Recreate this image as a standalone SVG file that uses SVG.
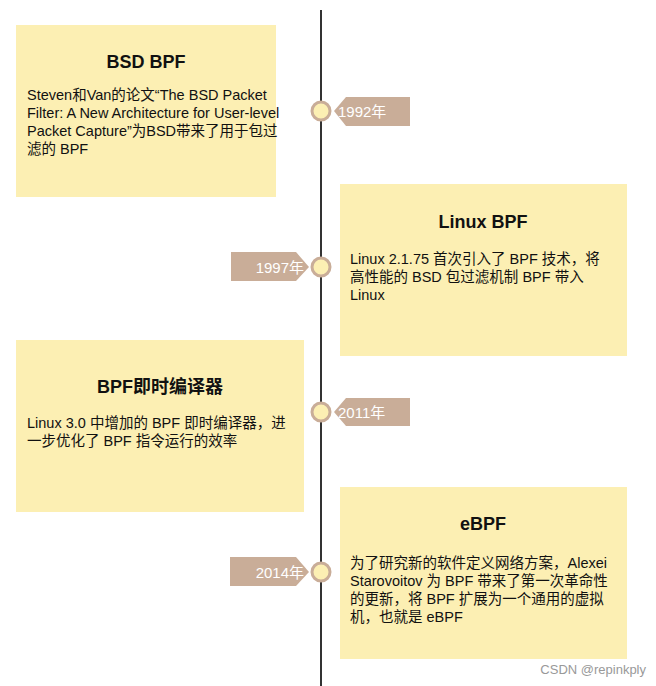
<svg xmlns="http://www.w3.org/2000/svg" width="656" height="686" viewBox="0 0 656 686">
<style>
.box{fill:#fcefb3}
.tag{fill:#c9ad98}
.dot{fill:#fcefb3;stroke:#c9ad98;stroke-width:3}
.t{font-family:"Liberation Sans","Noto Sans CJK SC",sans-serif;font-size:18px;font-weight:bold;fill:#111;text-anchor:middle}
.b{font-family:"Liberation Sans","Noto Sans CJK SC",sans-serif;font-size:14.5px;fill:#111}
.y{font-family:"Liberation Sans","Noto Sans CJK SC",sans-serif;font-size:15px;fill:#fff}
</style>
<rect width="656" height="686" fill="#fff"/>
<g id="connectors"><line x1="321" y1="10" x2="321" y2="686" stroke="#333" stroke-width="2"/></g>
<g id="n1">
<rect class="box" x="16" y="25" width="260" height="172"/>
<text class="t" x="146" y="68">BSD BPF</text>
<text class="b" x="27" y="100">Steven和Van的论文“The BSD Packet</text>
<text class="b" x="27" y="118">Filter: A New Architecture for User-level</text>
<text class="b" x="27" y="136">Packet Capture”为BSD带来了用于包过</text>
<text class="b" x="27" y="154">滤的 BPF</text>
<polygon class="tag" points="334,111 346,97 410,97 410,126 346,126"/>
<text class="y" x="338" y="117">1992年</text>
<circle class="dot" cx="321" cy="111" r="9"/>
</g>
<g id="n2">
<rect class="box" x="340" y="184" width="287" height="172"/>
<text class="t" x="483" y="228">Linux BPF</text>
<text class="b" x="350" y="264">Linux 2.1.75 首次引入了 BPF 技术，将</text>
<text class="b" x="350" y="282">高性能的 BSD 包过滤机制 BPF 带入</text>
<text class="b" x="350" y="300">Linux</text>
<polygon class="tag" points="231,252 296,252 309,267 296,281 231,281"/>
<text class="y" x="304" y="273" text-anchor="end">1997年</text>
<circle class="dot" cx="321" cy="267" r="9"/>
</g>
<g id="n3">
<rect class="box" x="16" y="340" width="288" height="172"/>
<text class="t" x="160" y="393">BPF即时编译器</text>
<text class="b" x="27" y="428">Linux 3.0 中增加的 BPF 即时编译器，进</text>
<text class="b" x="27" y="446">一步优化了 BPF 指令运行的效率</text>
<polygon class="tag" points="334,412 346,398 410,398 410,426 346,426"/>
<text class="y" x="338" y="418">2011年</text>
<circle class="dot" cx="321" cy="412" r="9"/>
</g>
<g id="n4">
<rect class="box" x="340" y="487" width="287" height="172"/>
<text class="t" x="483" y="530">eBPF</text>
<text class="b" x="350" y="568">为了研究新的软件定义网络方案，Alexei</text>
<text class="b" x="350" y="586">Starovoitov 为 BPF 带来了第一次革命性</text>
<text class="b" x="350" y="604">的更新，将 BPF 扩展为一个通用的虚拟</text>
<text class="b" x="350" y="622">机，也就是 eBPF</text>
<polygon class="tag" points="230,557 296,557 309,572 296,586 230,586"/>
<text class="y" x="304" y="578" text-anchor="end">2014年</text>
<circle class="dot" cx="321" cy="572" r="9"/>
</g>
<text x="646" y="674" text-anchor="end" font-family="Liberation Sans,Noto Sans CJK SC,sans-serif" font-size="13" fill="#999">CSDN @repinkply</text>
</svg>
